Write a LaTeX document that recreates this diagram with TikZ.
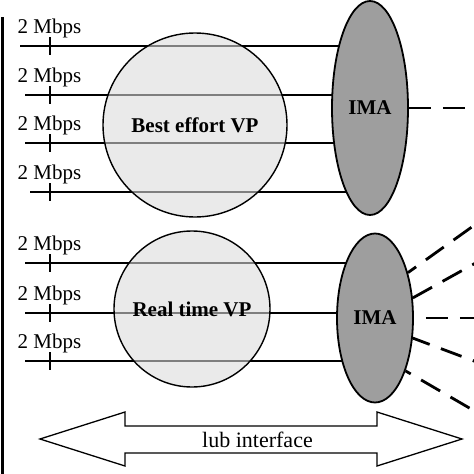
\documentclass[tikz,border=0pt]{standalone}
\usepackage{fontspec}
\setmainfont{Liberation Serif}
\usetikzlibrary{positioning,shapes,backgrounds}

\begin{document}
\begin{tikzpicture}[x=1pt,y=-1pt,
    link/.style = {line width=2.8pt},
    vpcircle/.style = {circle, draw=black, line width=1.4pt, fill=black!14, fill opacity=0.58, text opacity=1, inner sep=0pt, font=\fontsize{21}{25}\selectfont\bfseries},
    imabox/.style = {ellipse, draw=black, line width=1.8pt, fill=black!38, minimum width=76pt, inner sep=0pt, font=\fontsize{21}{25}\selectfont\bfseries},
    ratelabel/.style = {anchor=base, inner sep=0pt, font=\fontsize{21}{25}\selectfont},
    trunk/.style = {line width=2.8pt, dash pattern=on 22pt off 12pt}]
\useasboundingbox (0,0) rectangle (474,474);

\draw[line width=3pt] (2,17) -- (2,474);

\node[vpcircle, minimum size=184pt] (be) at (195,125) {Best effort VP};
\node[vpcircle, minimum size=156pt] (rt) at (192,309) {Real time VP};
\node[imabox, minimum height=214pt] (ima1) at (370,108) {IMA};
\node[imabox, minimum height=169pt] (ima2) at (375,318) {IMA};

\begin{pgfonlayer}{background}
\foreach \y/\x in {46/20, 95/25, 143/25, 192/30} {
    \coordinate (in\y) at (\x,\y);
    \draw[link] (in\y) -- (in\y -| ima1.center);
    \draw[link] (50,{\y-9}) -- (50,{\y+9});
    \node[ratelabel] (lab\y) at (49.5,{\y-13}) {2 Mbps};
}
\foreach \y in {263, 313, 361} {
    \coordinate (in\y) at (25,\y);
    \draw[link] (in\y) -- (in\y -| ima2.center);
    \draw[link] (50,{\y-9}) -- (50,{\y+9});
    \node[ratelabel] (lab\y) at (49.5,{\y-13}) {2 Mbps};
}
\end{pgfonlayer}

% trunks out of the IMA groups
\coordinate (out0) at (490,108);
\draw[trunk] (ima1.east) -- (out0);
\foreach \a/\p/\ex/\ey [count=\i] in {54/12/490/214, 28/0/490/255, 0/22/490/318, -28/4/490/367, -60/16/490/420} {
    \coordinate (out\i) at (\ex,\ey);
    \draw[trunk, dash phase=\p pt] (ima2.\a) -- (out\i);
}

\draw[line width=1.3pt] (40,439) -- (125,412) -- (125,426) -- (377,426) -- (377,412)
    -- (462,439) -- (377,466) -- (377,453) -- (125,453) -- (125,466) -- cycle;
\node[font=\fontsize{22}{26}\selectfont] (iub) at (257.5,440) {lub interface};
\end{tikzpicture}
\end{document}
